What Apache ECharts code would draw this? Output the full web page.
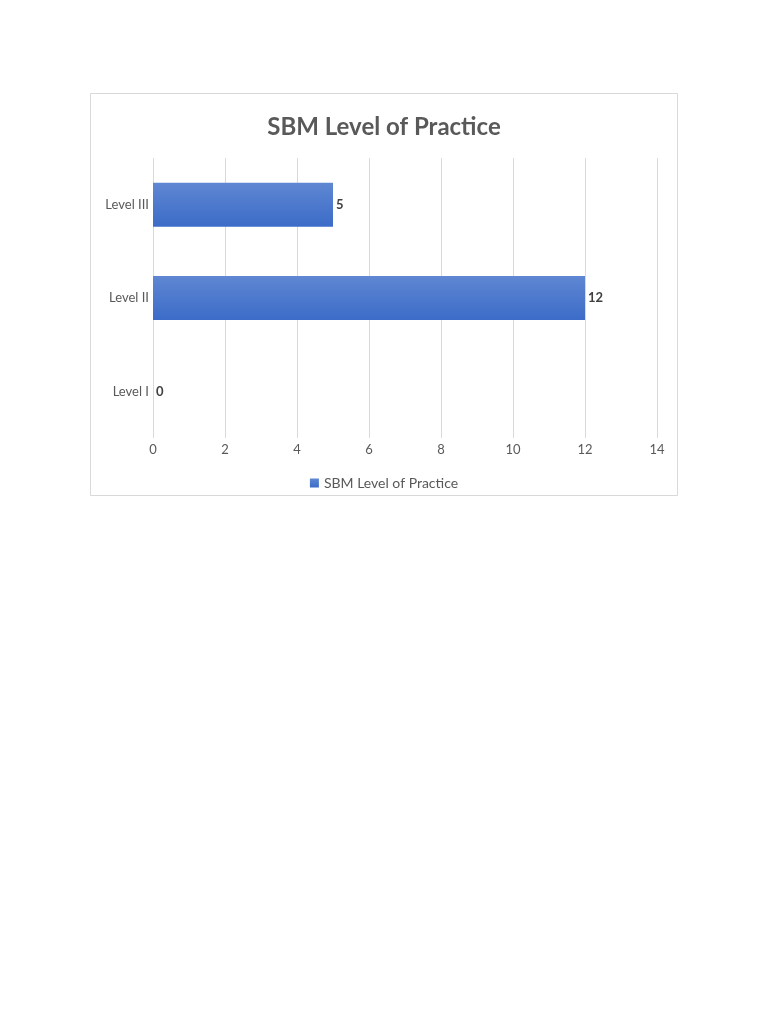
<!DOCTYPE html>
<html><head><meta charset="utf-8">
<script src="https://cdn.jsdelivr.net/npm/echarts@6/dist/echarts.min.js"></script>
<style>html,body{margin:0;padding:0;background:#fff}#c{width:768px;height:1024px}</style>
</head><body><div id="c"></div>
<script>
const categories = ['Level I', 'Level II', 'Level III'];
const values = [0, 12, 5];
const seriesName = 'SBM Level of Practice';
const titleText = 'SBM Level of Practice';

const chart = echarts.init(document.getElementById('c'));
const grad = new echarts.graphic.LinearGradient(0, 0, 0, 1, [
  {offset: 0, color: '#5f87d2'},
  {offset: 1, color: '#3c6cc8'}
]);
chart.setOption({
  backgroundColor: '#fff',
  animation: false,
  textStyle: {fontFamily: 'Lato'},
  graphic: [{
    type: 'rect', shape: {x: 90.5, y: 93.5, width: 587, height: 402},
    style: {fill: 'none', stroke: '#d9d9d9', lineWidth: 1}, z: -1
  }],
  title: {
    text: titleText, left: 'center', top: 110,
    textStyle: {fontFamily: 'Lato', fontSize: 24, fontWeight: 'bold', color: '#595959'}
  },
  legend: {
    data: [seriesName], top: 471, left: 'center', itemWidth: 9, itemHeight: 9,
    icon: 'rect', itemGap: 4,
    textStyle: {color: '#595959', fontSize: 14, fontFamily: 'Lato'}
  },
  grid: {left: 153, right: 111, top: 158, bottom: 586, containLabel: false},
  xAxis: {
    type: 'value', min: 0, max: 14, interval: 2,
    axisLine: {show: false}, axisTick: {show: false},
    axisLabel: {color: '#595959', fontSize: 13, margin: 5},
    splitLine: {lineStyle: {color: '#d9d9d9'}}
  },
  yAxis: {
    type: 'category', data: categories,
    axisLine: {show: false}, axisTick: {show: false},
    axisLabel: {color: '#595959', fontSize: 13, margin: 4}
  },
  series: [{
    name: seriesName, type: 'bar', data: values, barWidth: 44,
    itemStyle: {color: grad},
    label: {show: true, position: 'right', distance: 3, color: '#404040', fontSize: 13, fontWeight: 'bold'}
  }]
});
</script></body></html>
